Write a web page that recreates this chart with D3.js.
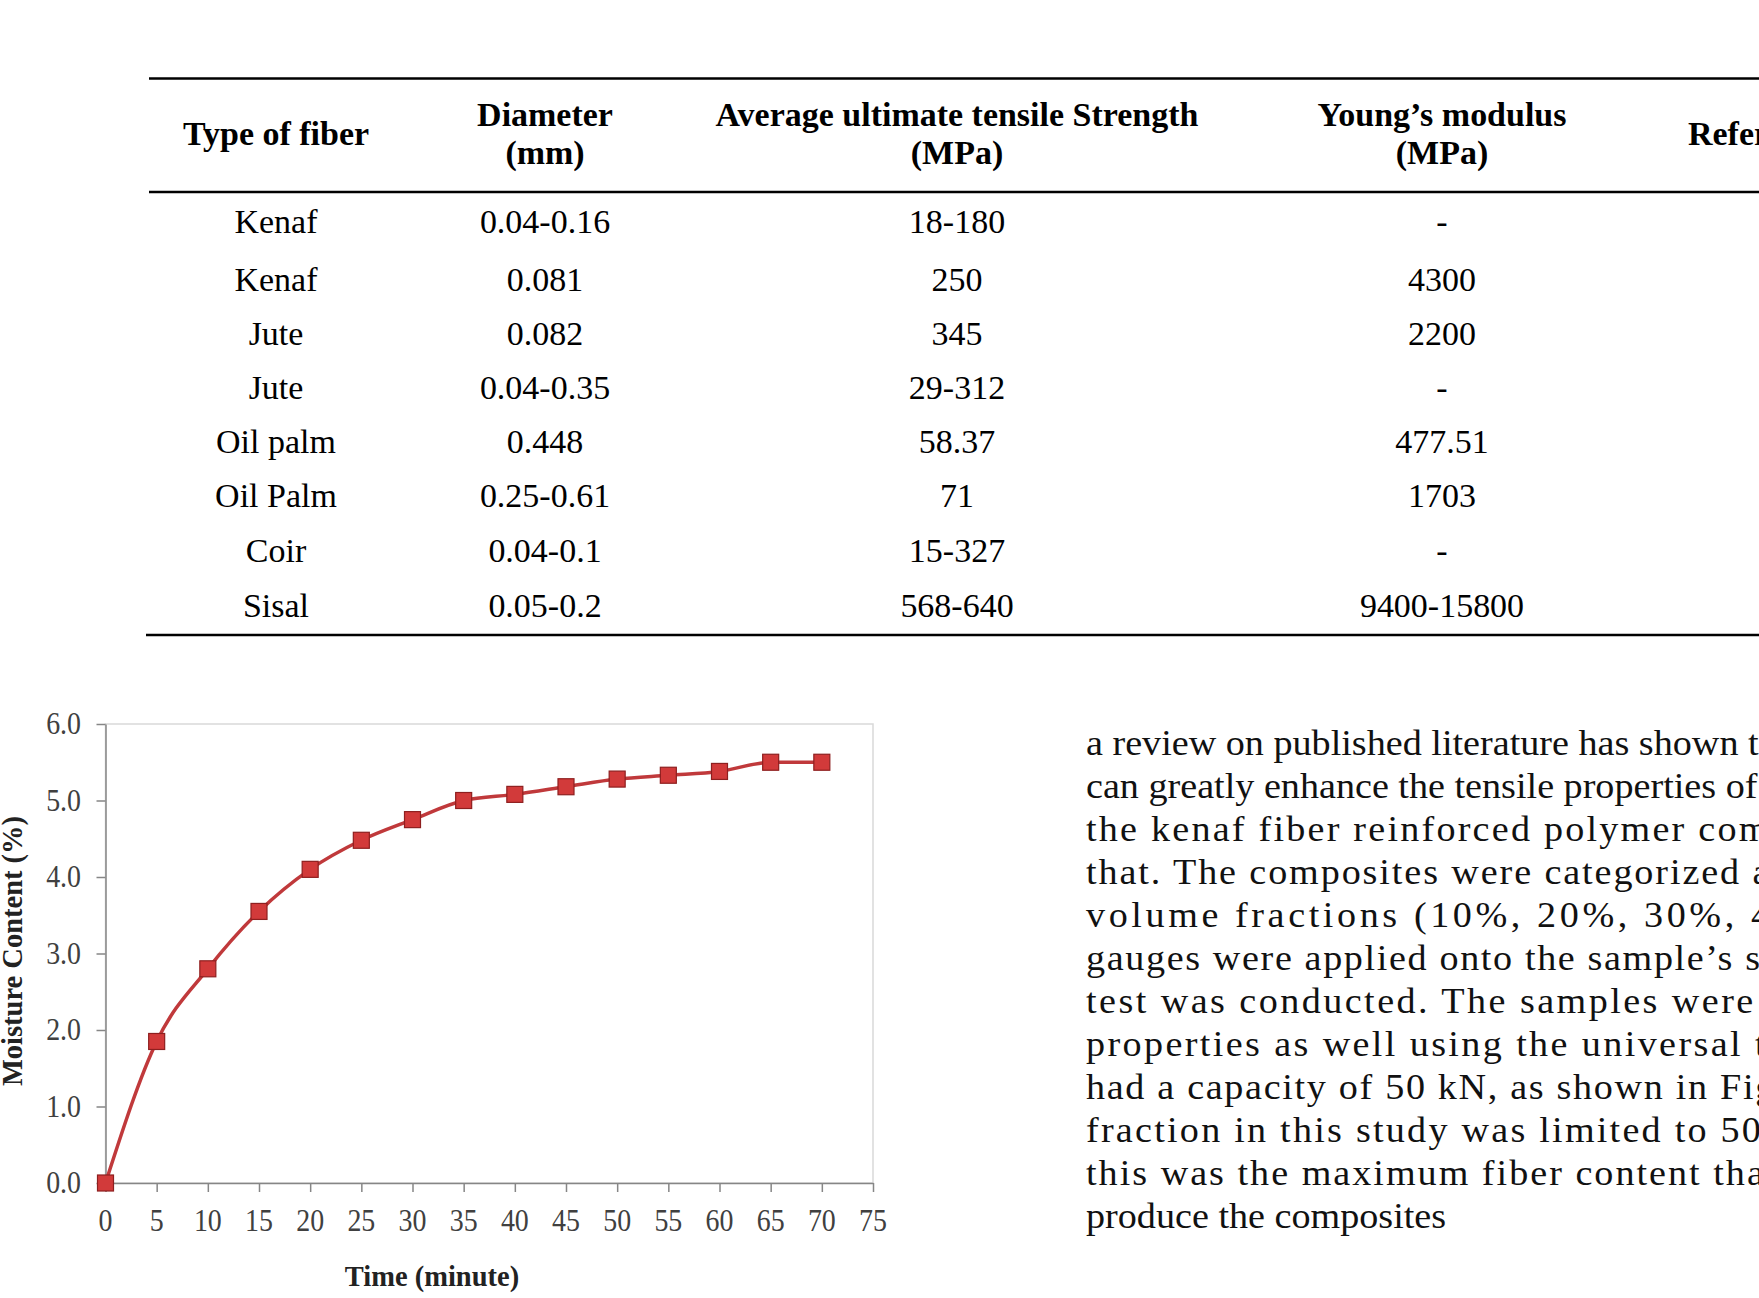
<!DOCTYPE html>
<html><head><meta charset="utf-8">
<script src="https://cdn.jsdelivr.net/npm/d3@7"></script>
<style>body{margin:0;background:#fff;overflow:hidden}</style>
</head><body>
<script>
// table data
const headers = [["Type of fiber"], ["Diameter", "(mm)"], ["Average ultimate tensile Strength", "(MPa)"], ["Young’s modulus", "(MPa)"], ["Refer"]];
const fibers = ["Kenaf", "Kenaf", "Jute", "Jute", "Oil palm", "Oil Palm", "Coir", "Sisal"];
const diameters = ["0.04-0.16", "0.081", "0.082", "0.04-0.35", "0.448", "0.25-0.61", "0.04-0.1", "0.05-0.2"];
const strengths = ["18-180", "250", "345", "29-312", "58.37", "71", "15-327", "568-640"];
const moduli = ["-", "4300", "2200", "-", "477.51", "1703", "-", "9400-15800"];

// chart data
const times = [0, 5, 10, 15, 20, 25, 30, 35, 40, 45, 50, 55, 60, 65, 70];
const moisture = [0, 1.85, 2.8, 3.55, 4.1, 4.48, 4.75, 5.0, 5.08, 5.18, 5.28, 5.33, 5.38, 5.5, 5.5];
const xTicks = d3.range(0, 80, 5);
const yTicks = [0, 1, 2, 3, 4, 5, 6];

const paragraph = [
  "a review on published literature has shown t",
  "can greatly enhance the tensile properties of",
  "the kenaf fiber reinforced polymer compos",
  "that. The composites were categorized acco",
  "volume fractions (10%, 20%, 30%, 40%",
  "gauges were applied onto the sample’s surfa",
  "test was conducted. The samples were test",
  "properties as well using the universal testi",
  "had a capacity of 50 kN, as shown in Figure",
  "fraction in this study was limited to 50% b",
  "this was the maximum fiber content that co",
  "produce the composites"
];

const W = 1759, H = 1298;
const svg = d3.select("body").append("svg").attr("width", W).attr("height", H);
const serif = "'Liberation Serif', 'DejaVu Serif', serif";

// helper: scaled text
function ctext(g, x, y, txt, size, weight, anchor, sx) {
  return g.append("text")
    .attr("transform", `translate(${x},${y}) scale(${sx},1)`)
    .attr("text-anchor", anchor)
    .style("font-family", serif)
    .style("font-size", size + "px")
    .style("font-weight", weight)
    .text(txt);
}

// ---- table ----
const colX = [276, 545, 957, 1442, 1688];
const rowY = [222, 280, 334, 388, 442, 496, 551, 606];
[[149, 78.5], [149, 192], [146, 635]].forEach(([x1, yy]) =>
  svg.append("line").attr("x1", x1).attr("x2", W).attr("y1", yy).attr("y2", yy).attr("stroke", "#000").attr("stroke-width", 2.5));

headers.forEach((h, i) => {
  const anchor = i === 4 ? "start" : "middle";
  if (h.length === 1) ctext(svg, colX[i], 145, h[0], 33, "bold", anchor, 1.03);
  else h.forEach((t, j) => ctext(svg, colX[i], 126 + j * 38, t, 33, "bold", anchor, 1.03));
});
const cols = [fibers, diameters, strengths, moduli];
cols.forEach((col, i) => col.forEach((v, r) => ctext(svg, colX[i], rowY[r] + 11, v, 33, "normal", "middle", 1.03)));

// ---- chart ----
const m = {l: 105.5, r: 873, t: 724, b: 1183};
const x = d3.scaleLinear().domain([0, 75]).range([m.l, m.r]);
const y = d3.scaleLinear().domain([0, 6]).range([m.b, m.t]);

svg.append("rect").attr("x", m.l).attr("y", m.t).attr("width", m.r - m.l).attr("height", m.b - m.t)
  .attr("fill", "none").attr("stroke", "#d9d9d9").attr("stroke-width", 1.5);

const xAxis = svg.append("g").attr("transform", `translate(0,${m.b})`)
  .call(d3.axisBottom(x).tickValues(xTicks).tickSize(9).tickSizeOuter(0).tickFormat(""));
const yAxis = svg.append("g").attr("transform", `translate(${m.l},0)`)
  .call(d3.axisLeft(y).tickValues(yTicks).tickSize(9).tickSizeOuter(0).tickFormat(""));
[xAxis, yAxis].forEach(a => { a.selectAll("line,path").attr("stroke", "#868686").attr("stroke-width", 1.5); });

xTicks.forEach(t => ctext(svg, x(t), 1231, String(t), 31, "normal", "middle", 0.9).attr("fill", "#404040"));
yTicks.forEach(t => ctext(svg, 81, y(t) + 10, t.toFixed(1), 31, "normal", "end", 0.9).attr("fill", "#404040"));

ctext(svg, 432, 1286, "Time (minute)", 30, "bold", "middle", 0.95).attr("fill", "#222");
svg.append("text").attr("transform", "translate(22,951) rotate(-90) scale(0.95,1)")
  .attr("text-anchor", "middle").style("font-family", serif).style("font-size", "30px")
  .style("font-weight", "bold").attr("fill", "#222").text("Moisture Content  (%)");

const pts = times.map((t, i) => [t, moisture[i]]);
svg.append("path").datum(pts)
  .attr("d", d3.line().x(d => x(d[0])).y(d => y(d[1])).curve(d3.curveMonotoneX))
  .attr("fill", "none").attr("stroke", "#c0393b").attr("stroke-width", 3.5);
svg.selectAll("rect.mk").data(pts).join("rect").attr("class", "mk")
  .attr("x", d => x(d[0]) - 8).attr("y", d => y(d[1]) - 8).attr("width", 16).attr("height", 16)
  .attr("fill", "#d23a3a").attr("stroke", "#8e1f1f").attr("stroke-width", 1.2);

// ---- paragraph ----
paragraph.forEach((line, i) => {
  const t = svg.append("text").attr("transform", `translate(1086,${755 + i * 43}) scale(1.06,1)`)
    .style("font-family", serif).style("font-size", "36px").attr("fill", "#111").text(line);
  if (i > 1 && i < paragraph.length - 1) t.attr("textLength", 700).attr("lengthAdjust", "spacing");
});
</script>
</body></html>
